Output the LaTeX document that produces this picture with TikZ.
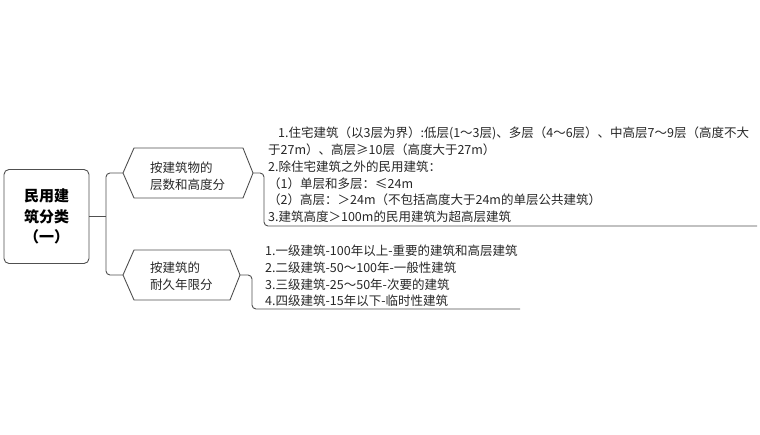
\documentclass[tikz,border=0pt]{standalone}
\usepackage{fontspec}
\setmainfont{Noto Sans CJK SC}
\definecolor{linegray}{HTML}{505050}
\definecolor{txtgray}{HTML}{262626}
\begin{document}
\begin{tikzpicture}[x=1pt,y=-1pt,
  line/.style={draw=linegray, line width=0.9pt},
  conn/.style={draw=linegray, line width=0.9pt, rounded corners=4pt},
  txt/.style={text=txtgray, inner sep=0pt, align=left, anchor=west},
  bodyfont/.style={font=\fontsize{12.5}{16.8}\selectfont},
]
\useasboundingbox (0,0) rectangle (760,435);
% root
\node[line, rounded corners=5pt, minimum width=85pt, minimum height=94pt,
      align=center, font=\bfseries\fontsize{15}{20.5}\selectfont, text=black]
      (root) at (46.5,216.5) {民用建\\筑分类\\（一）};
% hexagons
\draw[line] (123,173) coordinate (h1l) -- (134,148) -- (243,148) -- (253,173) coordinate (h1r)
            -- (243,198) -- (134,198) -- cycle;
\draw[line] (123,275) coordinate (h2l) -- (134,250) -- (230,250) -- (240,275) coordinate (h2r)
            -- (230,300) -- (134,300) -- cycle;
\node[txt, bodyfont] (h1t) at (150,176) {按建筑物的\\层数和高度分};
\node[txt, bodyfont] (h2t) at (150,276) {按建筑的\\耐久年限分};
% trunk
\coordinate (tj) at (106,216.5);
\draw[line] (root.east) -- (tj);
\draw[conn] (h1l) -- (106,173) -- (106,275) -- (h2l);
% branch 1
\coordinate (u1) at (757,226);
\draw[conn] (h1r) -- (264,173) -- (264,226) -- (u1);
\node[txt, bodyfont] (b1) at (268,175) {\hspace*{10pt}1.住宅建筑（以3层为界）:低层(1～3层)、多层（4～6层）、中高层7～9层（高度不大\\
于27m）、高层≥10层（高度大于27m）\\
2.除住宅建筑之外的民用建筑：\\
（1）单层和多层：≤24m\\
（2）高层：＞24m（不包括高度大于24m的单层公共建筑）\\
3.建筑高度＞100m的民用建筑为超高层建筑};
% branch 2
\coordinate (u2) at (520,309);
\draw[conn] (h2r) -- (252,275) -- (252,309) -- (u2);
\node[txt, bodyfont] (b2) at (265,276) {1.一级建筑-100年以上-重要的建筑和高层建筑\\
2.二级建筑-50～100年-一般性建筑\\
3.三级建筑-25～50年-次要的建筑\\
4.四级建筑-15年以下-临时性建筑};
\end{tikzpicture}
\end{document}
